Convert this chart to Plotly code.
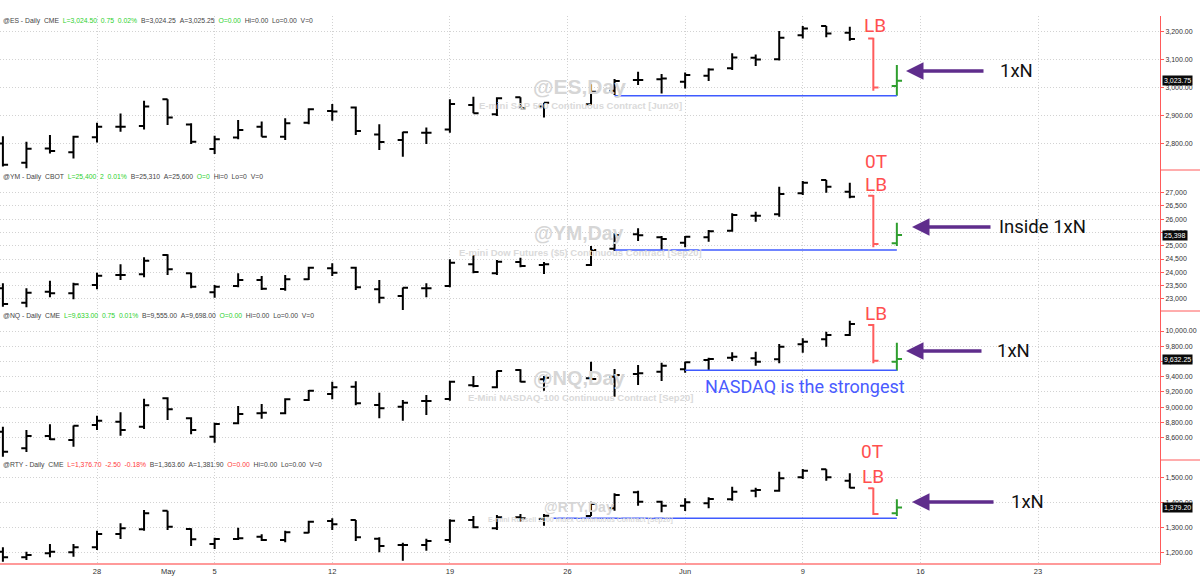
import plotly.graph_objects as go

# ---------------- data ----------------
bar_index = list(range(0, 24)) + list(range(25, 39))

es_open = [2799, 2730, 2781, 2767, 2821, 2859, 2861, 2957, 2867, 2779, 2820, 2859, 2823, 2873, 2915, 2928, 2831, 2811, 2837, 2849, 2937, 2903, 2964, 2931,
           2939, 2988, 3026, 3029, 3020, 3041, 3068, 3106, 3101, 3187, 3220, 3196, 3175, 3005]
es_high = [2825, 2805, 2829, 2826, 2873, 2906, 2952, 2957, 2871, 2826, 2883, 2877, 2889, 2925, 2940, 2931, 2868, 2841, 2856, 2957, 2966, 2964, 2964, 2945,
           3011, 3030, 3056, 3048, 3053, 3068, 3122, 3118, 3202, 3220, 3220, 3217, 3178, 3080]
es_low = [2716, 2710, 2763, 2745, 2802, 2841, 2849, 2865, 2797, 2761, 2814, 2823, 2811, 2868, 2880, 2829, 2775, 2751, 2797, 2837, 2907, 2897, 2925, 2892,
          2937, 2972, 3008, 2978, 2996, 3023, 3062, 3076, 3096, 3175, 3179, 3167, 2988, 2970]
es_close = [2722, 2780, 2772, 2823, 2859, 2859, 2931, 2892, 2805, 2814, 2847, 2823, 2871, 2921, 2913, 2843, 2804, 2839, 2837, 2940, 2907, 2961, 2925, 2945,
            2984, 3023, 3026, 3032, 3044, 3064, 3107, 3100, 3178, 3211, 3193, 3173, 2999, 3023.75]

ym_open = [23397, 22858, 23272, 23209, 23523, 23899, 23924, 24650, 23961, 23247, 23485, 23711, 23372, 23736, 24149, 24174, 23360, 23109, 23397, 23485, 24300, 23961, 24387, 24275,
           24275, 24889, 25427, 25315, 25114, 25315, 25565, 26129, 26179, 26969, 27470, 27031, 26881, 25089]
ym_high = [23585, 23397, 23686, 23610, 23986, 24300, 24563, 24676, 23986, 23523, 23961, 23861, 23899, 24212, 24337, 24212, 23711, 23430, 23585, 24488, 24650, 24462, 24550, 24387,
           24989, 25465, 25653, 25365, 25365, 25590, 26217, 26280, 27219, 27432, 27470, 27370, 26906, 25866]
ym_low = [22708, 22683, 23059, 22984, 23360, 23711, 23811, 23899, 23397, 23047, 23435, 23335, 23310, 23711, 23861, 23335, 22833, 22583, 23059, 23435, 23961, 23899, 24187, 23936,
          24237, 24801, 25177, 24838, 24939, 25152, 25528, 25904, 26092, 26906, 26994, 26781, 24939, 24989]
ym_close = [22808, 23235, 23209, 23548, 23874, 23899, 24437, 24112, 23460, 23460, 23711, 23385, 23736, 24174, 23986, 23435, 23047, 23422, 23397, 24362, 24011, 24400, 24237, 24300,
            24838, 25402, 25390, 25252, 25340, 25540, 26154, 26129, 26944, 27370, 27219, 26843, 25064, 25398]

nq_open = [8677, 8458, 8620, 8568, 8765, 8809, 8743, 9115, 8852, 8612, 8787, 8918, 8918, 9093, 9172, 9269, 9028, 9006, 9080, 9107, 9286, 9260, 9488, 9365,
           9378, 9400, 9435, 9466, 9496, 9619, 9650, 9641, 9628, 9825, 9891, 9948, 10079, 9597]
nq_high = [8743, 8699, 8774, 8760, 8888, 8931, 9111, 9128, 8866, 8796, 9015, 9041, 9115, 9225, 9334, 9339, 9190, 9093, 9159, 9347, 9409, 9479, 9496, 9409,
           9597, 9501, 9553, 9584, 9597, 9650, 9720, 9729, 9829, 9904, 9991, 10136, 10092, 9847]
nq_low = [8349, 8410, 8568, 8480, 8699, 8625, 8712, 8831, 8642, 8533, 8774, 8848, 8905, 9080, 9102, 9023, 8852, 8822, 8896, 9085, 9260, 9247, 9326, 9216,
          9356, 9137, 9291, 9343, 9453, 9488, 9606, 9545, 9575, 9715, 9794, 9934, 9575, 9479]
nq_close = [8415, 8620, 8577, 8756, 8822, 8699, 9023, 8971, 8699, 8778, 8909, 8927, 9102, 9216, 9260, 9050, 8984, 9058, 9080, 9334, 9277, 9474, 9334, 9387,
            9369, 9422, 9444, 9545, 9588, 9632, 9663, 9597, 9794, 9860, 9948, 10092, 9610, 9632.25]

rty_open = [1202.5, 1179.9, 1195.9, 1199.9, 1219.9, 1273.2, 1291.9, 1366.5, 1293.2, 1233.2, 1253.2, 1262.5, 1249.2, 1278.5, 1325.2, 1329.2, 1254.5, 1229.2, 1229.2, 1249.2, 1329.2, 1295.9, 1339.9, 1333.2,
            1345.2, 1375.9, 1439.9, 1402.5, 1386.5, 1395.9, 1411.9, 1446.5, 1446.5, 1499.9, 1531.9, 1486.5, 1455.9, 1355.9]
rty_high = [1219.9, 1202.5, 1233.2, 1233.2, 1286.5, 1315.9, 1369.2, 1366.5, 1295.9, 1258.5, 1298.5, 1271.9, 1286.5, 1326.5, 1335.9, 1329.2, 1259.9, 1238.5, 1254.5, 1331.9, 1345.2, 1349.2, 1353.2, 1353.2,
            1402.5, 1435.9, 1446.5, 1406.5, 1415.9, 1419.9, 1462.5, 1458.5, 1522.5, 1533.2, 1531.9, 1515.9, 1458.5, 1411.9]
rty_low = [1162.5, 1169.2, 1179.9, 1182.5, 1209.2, 1253.2, 1286.5, 1289.2, 1225.2, 1213.2, 1249.2, 1245.2, 1239.9, 1275.9, 1289.2, 1245.2, 1199.9, 1166.5, 1206.5, 1238.5, 1295.9, 1289.2, 1322.5, 1306.5,
           1345.2, 1366.5, 1386.5, 1359.9, 1365.2, 1375.9, 1406.5, 1419.9, 1442.5, 1493.2, 1486.5, 1455.9, 1349.2, 1345.2]
rty_close = [1179.9, 1189.2, 1202.5, 1219.9, 1273.2, 1295.9, 1355.9, 1302.5, 1251.9, 1253.2, 1255.9, 1249.2, 1279.9, 1322.5, 1311.9, 1259.9, 1225.2, 1229.2, 1245.2, 1326.5, 1299.9, 1339.9, 1335.9, 1346.5,
             1393.2, 1429.2, 1402.5, 1386.5, 1399.9, 1413.2, 1442.5, 1449.2, 1495.9, 1526.5, 1499.9, 1458.5, 1353.2, 1379.2]

# support (blue) lines: start bar, end bar, level
blue_start = [26, 26, 29, 23.4]
blue_end = [38, 38, 38, 38]
blue_level = [2970, 24838, 9484, 1336]

last_price_text = ["3,023.75", "25,398", "9,632.25", "1,379.20"]
last_price = [3023.75, 25398, 9632.25, 1379.20]

es_ticks = [2800, 2900, 3000, 3100, 3200]
ym_ticks = [23000, 23500, 24000, 24500, 25000, 25500, 26000, 26500, 27000]
nq_ticks = [8600, 8800, 9000, 9200, 9400, 9600, 9800, 10000]
rty_ticks = [1200, 1300, 1400, 1500]

week_ticks = [4, 9, 14, 19, 24, 29, 34, 39, 44]
week_labels = ["28", "5", "12", "19", "26", "Jun", "9", "16", "23"]
month_tick = 7
month_label = "May"

symbols = ["@ES,Day", "@YM,Day", "@NQ,Day", "@RTY,Day"]
descriptions = ["E-mini S&P 500 Continuous Contract [Jun20]",
                "E-mini Dow Futures ($5) Continuous Contract [Sep20]",
                "E-Mini NASDAQ-100 Continuous Contract [Sep20]",
                "E-mini Russell 2000 Index Continuous Contract [Sep20]"]

GR = "#2ed12e"
RD = "#ff3b3b"
DK = "#444444"
headers = [
    [("@ES - Daily", DK), ("CME", DK), ("L=3,024.50", GR), ("0.75", GR), ("0.02%", GR), ("B=3,024.25", DK), ("A=3,025.25", DK), ("O=0.00", GR), ("Hi=0.00", DK), ("Lo=0.00", DK), ("V=0", DK)],
    [("@YM - Daily", DK), ("CBOT", DK), ("L=25,400", GR), ("2", GR), ("0.01%", GR), ("B=25,310", DK), ("A=25,600", DK), ("O=0", GR), ("Hi=0", DK), ("Lo=0", DK), ("V=0", DK)],
    [("@NQ - Daily", DK), ("CME", DK), ("L=9,633.00", GR), ("0.75", GR), ("0.01%", GR), ("B=9,555.00", DK), ("A=9,698.00", DK), ("O=0.00", GR), ("Hi=0.00", DK), ("Lo=0.00", DK), ("V=0", DK)],
    [("@RTY - Daily", DK), ("CME", DK), ("L=1,376.70", RD), ("-2.50", RD), ("-0.18%", RD), ("B=1,363.60", DK), ("A=1,381.90", DK), ("O=0.00", RD), ("Hi=0.00", DK), ("Lo=0.00", DK), ("V=0", DK)],
]

# ---------------- layout geometry (pixels) ----------------
W, H = 1200, 577
PL, PR, PT, PB = 0, 1160, 16, 563
panel_px = [(16, 170), (170, 311), (311, 460), (460, 563)]
ranges = [[2703.6, 3255.6], [22545, 27846], [8305, 10263], [1157, 1569]]
tickvals = [es_ticks, ym_ticks, nq_ticks, rty_ticks]
tickfmt = [",.2f", ",d", ",.2f", ",.2f"]
XR = [(PL - 2.9) / 23.525, (PR - 2.9) / 23.525]


def fx(x):
    return (x - PL) / (PR - PL)


def fy(y):
    return (PB - y) / (PB - PT)


series = [
    (es_open, es_high, es_low, es_close),
    (ym_open, ym_high, ym_low, ym_close),
    (nq_open, nq_high, nq_low, nq_close),
    (rty_open, rty_high, rty_low, rty_close),
]

fig = go.Figure()
AX = "#ff5a5a"
FONT = "Liberation Sans, Arial, sans-serif"
GRID = "#d2d2d2"
DOT = "1px,2px"

for i, (o, h, l, c) in enumerate(series):
    xa = "x" if i == 0 else f"x{i+1}"
    ya = "y" if i == 0 else f"y{i+1}"
    n = len(bar_index)
    groups = [(slice(0, n - 2), "#000000"),
              (slice(n - 2, n - 1), "#ff5c5c"),
              (slice(n - 1, n), "#2e9e2e")]
    for sl, col in groups:
        fig.add_trace(go.Ohlc(
            x=bar_index[sl], open=o[sl], high=h[sl], low=l[sl], close=c[sl],
            increasing=dict(line=dict(color=col, width=2)),
            decreasing=dict(line=dict(color=col, width=2)),
            tickwidth=0.22, hoverinfo="skip", showlegend=False,
            xaxis=xa, yaxis=ya))
    fig.add_trace(go.Scatter(
        x=[blue_start[i], blue_end[i]], y=[blue_level[i], blue_level[i]],
        mode="lines", line=dict(color="#3f5bff", width=1.6),
        hoverinfo="skip", showlegend=False, xaxis=xa, yaxis=ya))

layout = dict(
    width=W, height=H,
    margin=dict(l=PL, r=W - PR, t=PT, b=H - PB, autoexpand=False),
    paper_bgcolor="white", plot_bgcolor="white",
    showlegend=False, hovermode=False,
    font=dict(family=FONT, size=8, color="#333"),
)

for i in range(4):
    top, bot = panel_px[i]
    xk = "xaxis" if i == 0 else f"xaxis{i+1}"
    yk = "yaxis" if i == 0 else f"yaxis{i+1}"
    xa = "x" if i == 0 else f"x{i+1}"
    ya = "y" if i == 0 else f"y{i+1}"
    is_bottom = (i == 3)
    xd = dict(
        domain=[0, 1], anchor=ya, range=XR,
        tickmode="array", tickvals=week_ticks, ticktext=week_labels,
        showticklabels=is_bottom, ticks="",
        tickfont=dict(size=7.5, color="#333", family=FONT),
        showgrid=True, gridcolor=GRID, griddash=DOT, gridwidth=1,
        zeroline=False,
        showline=is_bottom, linecolor="#ff9a9a", linewidth=2,
        rangeslider=dict(visible=False), fixedrange=True,
    )
    if i > 0:
        xd["matches"] = "x"
    layout[xk] = xd
    layout[yk] = dict(
        domain=[fy(bot), fy(top)], anchor=xa, side="right",
        range=ranges[i], tickmode="array", tickvals=tickvals[i],
        tickformat=tickfmt[i],
        tickfont=dict(size=7, color="#333", family=FONT),
        ticks="outside", ticklen=3, tickcolor=AX,
        showgrid=True, gridcolor=GRID, griddash=DOT, gridwidth=1,
        zeroline=False, showline=True, linecolor=AX, linewidth=1,
        automargin=False, fixedrange=True,
    )

annotations = []
shapes = []

# separators in the price-axis strip
for y in [170, 311, 460]:
    shapes.append(dict(type="line", xref="paper", yref="paper",
                       x0=fx(1160), x1=fx(1200), y0=fy(y), y1=fy(y),
                       line=dict(color=AX, width=1)))

header_y = [21, 176.7, 315.7, 464.5]
wm_y = [87, 233, 378, 507]
sub_y = [105, 252, 397, 520]
wm_size = [21, 19.5, 20, 14]
sub_size = [9.5, 9.5, 9.5, 7]

for i in range(4):
    ya = "y" if i == 0 else f"y{i+1}"
    parts = [f'<span style="color:{col}">' + txt.replace(" ", "&nbsp;") + "</span>"
             for txt, col in headers[i]]
    annotations.append(dict(text="&nbsp;&nbsp;".join(parts), xref="paper", yref="paper",
                            x=fx(1), y=fy(header_y[i]), xanchor="left", yanchor="middle",
                            showarrow=False, font=dict(size=6.8, family=FONT, color=DK)))
    annotations.append(dict(text="<b>" + symbols[i] + "</b>", xref="paper", yref="paper",
                            x=fx(579), y=fy(wm_y[i]), xanchor="center", yanchor="middle",
                            showarrow=False, font=dict(size=wm_size[i], family=FONT, color="#d6d6d6")))
    annotations.append(dict(text="<b>" + descriptions[i] + "</b>", xref="paper", yref="paper",
                            x=fx(580), y=fy(sub_y[i]), xanchor="center", yanchor="middle",
                            showarrow=False, font=dict(size=sub_size[i], family=FONT, color="#dadada")))
    annotations.append(dict(text=last_price_text[i], xref="paper", yref=ya,
                            x=fx(1162), y=last_price[i], xanchor="left", yanchor="middle",
                            showarrow=False, bgcolor="#0a0a0a", borderpad=1,
                            font=dict(size=7, family=FONT, color="white")))

# month label on the date axis
annotations.append(dict(text=month_label, xref="x4", yref="paper", x=month_tick, y=fy(571),
                        xanchor="center", yanchor="middle", showarrow=False,
                        font=dict(size=7.5, family=FONT, color="#333")))

# red LB / 0T marks
LBC = "#ff4f4f"
TF = "Roboto, sans-serif"
for txt, xp, yp in [("LB", 875, 25), ("0T", 876, 162), ("LB", 876, 184),
                    ("LB", 876, 313), ("0T", 872, 452), ("LB", 873, 476)]:
    annotations.append(dict(text=txt, xref="paper", yref="paper", x=fx(xp), y=fy(yp),
                            xanchor="center", yanchor="middle", showarrow=False,
                            font=dict(size=19, family=TF, color=LBC)))

# arrows + labels
PUR = "#5f2d8c"
for tipx, tailx, yp, label, lx in [(906, 985, 71, "1xN", 1016),
                                   (912, 992, 227, "Inside 1xN", 1042),
                                   (906, 983, 351, "1xN", 1013),
                                   (912, 995, 502, "1xN", 1027)]:
    annotations.append(dict(text="", xref="paper", yref="paper", x=fx(tipx), y=fy(yp),
                            ax=tailx - tipx, ay=0, showarrow=True, arrowhead=2,
                            arrowsize=1.0, arrowwidth=3.5, arrowcolor=PUR))
    annotations.append(dict(text=label, xref="paper", yref="paper", x=fx(lx), y=fy(yp),
                            xanchor="center", yanchor="middle", showarrow=False,
                            font=dict(size=18.5, family=TF, color="#111")))

annotations.append(dict(text="NASDAQ is the strongest", xref="paper", yref="paper",
                        x=fx(805), y=fy(387), xanchor="center", yanchor="middle",
                        showarrow=False, font=dict(size=18, family=TF, color="#4a5bff")))

layout["annotations"] = annotations
layout["shapes"] = shapes
fig.update_layout(**layout)

fig.write_html("out.html", config={"displayModeBar": False},
               post_script="document.body.style.margin='0';document.body.style.padding='0';")
